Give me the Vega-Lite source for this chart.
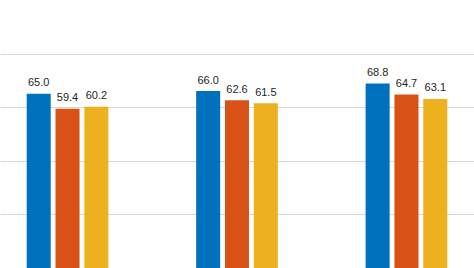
{
  "$schema": "https://vega.github.io/schema/vega-lite/v6.json",
  "width": 474,
  "height": 268,
  "autosize": "none",
  "padding": 0,
  "background": "white",
  "config": {"view": {"stroke": null}},
  "data": {"values": [
    {"group": "A", "series": "1", "value": 65.0},
    {"group": "A", "series": "2", "value": 59.4},
    {"group": "A", "series": "3", "value": 60.2},
    {"group": "B", "series": "1", "value": 66.0},
    {"group": "B", "series": "2", "value": 62.6},
    {"group": "B", "series": "3", "value": 61.5},
    {"group": "C", "series": "1", "value": 68.8},
    {"group": "C", "series": "2", "value": 64.7},
    {"group": "C", "series": "3", "value": 63.1}
  ]},
  "encoding": {
    "x": {"field": "group", "type": "nominal", "axis": null,
          "scale": {"paddingInner": 0.518, "paddingOuter": 0.1575}},
    "xOffset": {"field": "series", "type": "nominal",
                "scale": {"paddingInner": 0.167, "paddingOuter": 0}},
    "y": {"field": "value", "type": "quantitative",
          "scale": {"domain": [0, 100], "nice": false, "zero": true},
          "axis": {"values": [20, 40, 60, 80], "grid": true, "gridColor": "#d6d6d6", "gridWidth": 1,
                   "domain": false, "ticks": false, "labels": false, "title": null}}
  },
  "layer": [
    {"mark": {"type": "bar"},
     "encoding": {"color": {"field": "series", "type": "nominal", "legend": null,
                            "scale": {"range": ["#0072BD", "#D95319", "#EDB120"]}}}},
    {"mark": {"type": "text", "baseline": "alphabetic", "dy": -7.5, "font": "Liberation Sans", "fontSize": 11, "color": "#262626"},
     "encoding": {"text": {"field": "value", "type": "quantitative", "format": ".1f"}}}
  ]
}
